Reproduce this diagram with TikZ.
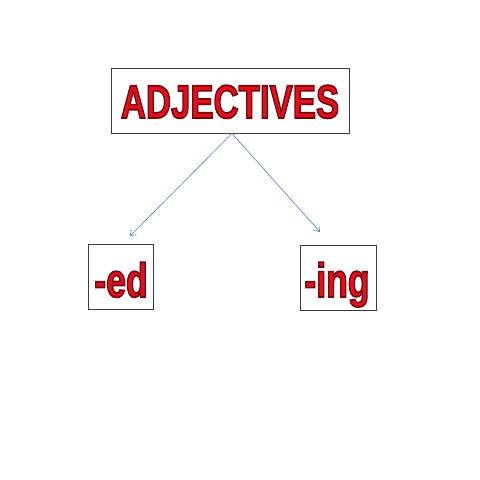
\documentclass[tikz,border=0pt]{standalone}
\usepackage{fontspec}
\setmainfont{Liberation Sans}
\usetikzlibrary{arrows.meta}
\definecolor{wred}{HTML}{E3101C}
\definecolor{wblue}{HTML}{4F81BD}
\definecolor{wgray}{HTML}{3A3A3A}
\newcommand{\outlined}[1]{\special{pdf:literal direct 2 Tr 1.7 w 0.45 0.03 0.06 RG}#1\special{pdf:literal direct 0 Tr}}
\begin{document}
\begin{tikzpicture}[x=1pt,y=1pt,
  box/.style={draw=wgray, line width=0.9pt, fill=white, inner sep=0pt},
  wordtext/.style={anchor=base, inner sep=0pt, xscale=0.74, text=wred},
  link/.style={draw=wblue, line width=0.6pt, -{Straight Barb[length=5pt,width=7pt]}}]
\fill[white] (0,0) rectangle (480,480);
\useasboundingbox (0,0) rectangle (480,480);
\node[box, minimum width=238pt, minimum height=65pt] (adj) at (230,379.5) {};
\node[box, minimum width=65pt, minimum height=65pt] (ed) at (120.5,203.5) {};
\node[box, minimum width=76pt, minimum height=65pt] (ing) at (338,202.5) {};
\node[wordtext, font=\fontsize{47}{47}\selectfont\bfseries] (adjt) at (230,362) {\outlined{ADJECTIVES}};
\node[wordtext, font=\fontsize{48}{48}\selectfont\bfseries] (edt) at (121,183) {\outlined{-ed}};
\node[wordtext, font=\fontsize{48}{48}\selectfont\bfseries] (ingt) at (337,183) {\outlined{-ing}};
\coordinate (e1) at (130,244);
\coordinate (e2) at (320,248);
\draw[link] (adj.south) ++(2,0) coordinate (s) -- (e1);
\draw[link] (s) -- (e2);
\end{tikzpicture}
\end{document}
